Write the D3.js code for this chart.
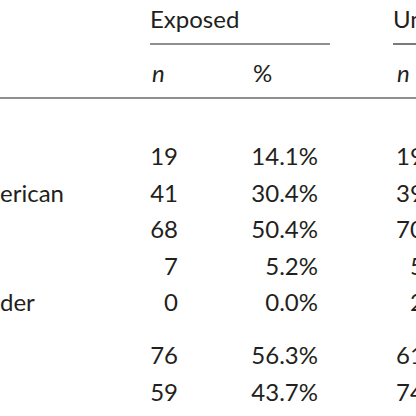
<!DOCTYPE html>
<html><head><meta charset="utf-8">
<script src="https://cdn.jsdelivr.net/npm/d3@7"></script>
<style>body{margin:0;background:#fff}text{font-family:Lato,"Open Sans",sans-serif;fill:#231f20}</style>
</head><body>
<script>
// rows as seen in the crop (labels are cut at the left edge)
var labels = ["", "erican", "", "", "der", "", ""];
var groups = [0, 0, 0, 0, 0, 1, 1];
var exposedN = ["19", "41", "68", "7", "0", "76", "59"];
var exposedPct = ["14.1%", "30.4%", "50.4%", "5.2%", "0.0%", "56.3%", "43.7%"];
var unexposedN = ["19", "39", "70", "5", "2", "61", "74"];

var W = 416, H = 416;
var fs = 24;
var svg = d3.select("body").append("svg").attr("width", W).attr("height", H);

var rowY = d3.scaleLinear().domain([0, 1]).range([165, 201.5]);
var y = function(i) { return rowY(i) + groups[i] * 16.5; };

svg.append("text").attr("x", 150).attr("y", 28).attr("font-size", fs).text("Exposed");
svg.append("text").attr("x", 393).attr("y", 28).attr("font-size", fs).text("Unexposed");
svg.append("line").attr("x1", 150).attr("x2", 330).attr("y1", 44).attr("y2", 44).attr("stroke", "#231f20").attr("stroke-width", 1.2);
svg.append("line").attr("x1", 393).attr("x2", 420).attr("y1", 44).attr("y2", 44).attr("stroke", "#231f20").attr("stroke-width", 1.2);
svg.append("text").attr("x", 152).attr("y", 82).attr("font-size", fs).attr("font-style", "italic").text("n");
svg.append("text").attr("x", 253).attr("y", 82).attr("font-size", fs).text("%");
svg.append("text").attr("x", 397).attr("y", 82).attr("font-size", fs).attr("font-style", "italic").text("n");
svg.append("line").attr("x1", 0).attr("x2", W).attr("y1", 98).attr("y2", 98).attr("stroke", "#231f20").attr("stroke-width", 1.2);

var rows = svg.selectAll("g.row").data(d3.range(labels.length)).enter().append("g")
  .attr("transform", function(i) { return "translate(0," + y(i) + ")"; })
  .attr("font-size", fs);
rows.append("text").attr("x", 0).text(function(i) { return labels[i]; });
rows.append("text").attr("x", 178).attr("text-anchor", "end").text(function(i) { return exposedN[i]; });
rows.append("text").attr("x", 318).attr("text-anchor", "end").text(function(i) { return exposedPct[i]; });
rows.append("text").attr("x", function(i) { return unexposedN[i].length > 1 ? 396 : 410; }).text(function(i) { return unexposedN[i]; });
</script>
</body></html>
